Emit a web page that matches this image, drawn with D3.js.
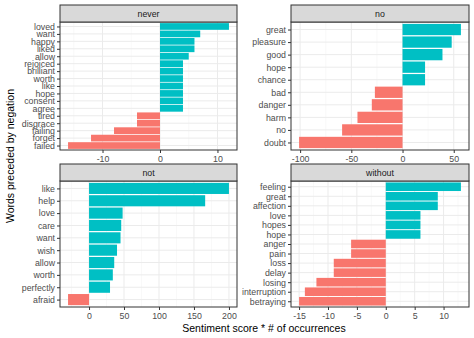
<!DOCTYPE html>
<html><head><meta charset="utf-8">
<script src="https://cdn.jsdelivr.net/npm/d3@7"></script>
<style>body{margin:0;background:#fff}svg{display:block}text{font-family:"Liberation Sans",Arial,sans-serif}</style>
</head><body><svg id="c" width="474" height="338"></svg>
<script>
// Data (top-to-bottom order within each facet)
const neverWords  = ["loved","want","happy","liked","allow","rejoiced","brilliant","worth","like","hope","consent","agree","tired","disgrace","failing","forget","failed"];
const neverValues = [12,7,6,6,5,4,4,4,4,4,4,4,-4,-4,-8,-12,-16];
const neverTicks  = [-10,0,10];

const noWords  = ["great","pleasure","good","hope","chance","bad","danger","harm","no","doubt"];
const noValues = [57,48,39,22,22,-27,-30,-44,-59,-101];
const noTicks  = [-100,-50,0,50];

const notWords  = ["like","help","love","care","want","wish","allow","worth","perfectly","afraid"];
const notValues = [200,166,48,46,45,40,36,34,30,-30];
const notTicks  = [0,50,100,150,200];

const withoutWords  = ["feeling","great","affection","love","hopes","hope","anger","pain","loss","delay","losing","interruption","betraying"];
const withoutValues = [13,9,9,6,6,6,-6,-6,-9,-9,-12,-14,-15];
const withoutTicks  = [-15,-10,-5,0,5,10];

const facets = [
  {name:"never",   words:neverWords,   values:neverValues,   ticks:neverTicks,   col:0,row:0},
  {name:"no",      words:noWords,      values:noValues,      ticks:noTicks,      col:1,row:0},
  {name:"not",     words:notWords,     values:notValues,     ticks:notTicks,     col:0,row:1},
  {name:"without", words:withoutWords, values:withoutValues, ticks:withoutTicks, col:1,row:1}
];

const colX = [[60,237],[291,469]];
const rowY = [{s:5,p0:22,p1:150},{s:164,p0:181,p1:307}];
const pos = "#00BFC4", neg = "#F8766D";
const fs = 8.8;

const svg = d3.select("#c");

facets.forEach(f=>{
  const [x0,x1] = colX[f.col];
  const r = rowY[f.row];
  const lo = Math.min(0,d3.min(f.values)), hi = Math.max(0,d3.max(f.values));
  const pad = (hi-lo)*0.05;
  const x = d3.scaleLinear().domain([lo-pad, hi+pad]).range([x0,x1]);
  const y = d3.scalePoint().domain(f.words).range([r.p0,r.p1]).padding(0.6);
  const step = y.step();
  const g = svg.append("g");
  g.append("rect").attr("x",x0).attr("y",r.p0).attr("width",x1-x0).attr("height",r.p1-r.p0).attr("fill","#fff");
  // minor grid
  const t = f.ticks, st = t[1]-t[0];
  const minors = [];
  for(let v=t[0]-st/2; v<=x.domain()[1]; v+=st){ if(v>=x.domain()[0]) minors.push(v); }
  g.selectAll(".mn").data(minors).enter().append("line")
    .attr("x1",d=>x(d)).attr("x2",d=>x(d)).attr("y1",r.p0).attr("y2",r.p1)
    .attr("stroke","#F2F2F2").attr("stroke-width",0.5);
  // major grid
  g.selectAll(".mj").data(t).enter().append("line")
    .attr("x1",d=>x(d)).attr("x2",d=>x(d)).attr("y1",r.p0).attr("y2",r.p1)
    .attr("stroke","#EBEBEB").attr("stroke-width",1);
  g.selectAll(".my").data(f.words).enter().append("line")
    .attr("x1",x0).attr("x2",x1).attr("y1",d=>y(d)).attr("y2",d=>y(d))
    .attr("stroke","#EBEBEB").attr("stroke-width",1);
  // bars
  g.selectAll(".b").data(f.words.map((w,i)=>({w,v:f.values[i]}))).enter().append("rect")
    .attr("x",d=>x(Math.min(0,d.v))).attr("width",d=>Math.abs(x(d.v)-x(0)))
    .attr("y",d=>y(d.w)-0.45*step).attr("height",0.9*step)
    .attr("fill",d=>d.v>=0?pos:neg);
  // border
  g.append("rect").attr("x",x0).attr("y",r.p0).attr("width",x1-x0).attr("height",r.p1-r.p0)
    .attr("fill","none").attr("stroke","#333").attr("stroke-width",1);
  // strip
  g.append("rect").attr("x",x0).attr("y",r.s).attr("width",x1-x0).attr("height",r.p0-r.s)
    .attr("fill","#D9D9D9").attr("stroke","#333").attr("stroke-width",1);
  g.append("text").attr("x",(x0+x1)/2).attr("y",(r.s+r.p0)/2).attr("dy","0.35em")
    .attr("text-anchor","middle").attr("font-size",fs).attr("fill","#1A1A1A").text(f.name);
  // x axis
  const xa = g.append("g").attr("transform",`translate(0,${r.p1})`)
    .call(d3.axisBottom(x).tickValues(t).tickSize(3).tickPadding(2.5));
  xa.select(".domain").remove();
  xa.selectAll("line").attr("stroke","#333");
  xa.selectAll("text").attr("fill","#4D4D4D").attr("font-size",fs).style("font-family","Liberation Sans, Arial, sans-serif")
    .text(d=>d<0?"-"+Math.abs(d):d);
  // y axis
  const ya = g.append("g").attr("transform",`translate(${x0},0)`)
    .call(d3.axisLeft(y).tickSize(3).tickPadding(2));
  ya.select(".domain").remove();
  ya.selectAll("line").attr("stroke","#333");
  ya.selectAll("text").attr("fill","#4D4D4D").attr("font-size",fs).style("font-family","Liberation Sans, Arial, sans-serif");
});

svg.append("text").attr("x",264).attr("y",332).attr("text-anchor","middle")
  .attr("font-size",10.5).attr("fill","#000").text("Sentiment score * # of occurrences");
svg.append("text").attr("transform","translate(14,156) rotate(-90)").attr("text-anchor","middle")
  .attr("font-size",10.5).attr("fill","#000").text("Words preceded by negation");
</script></body></html>
